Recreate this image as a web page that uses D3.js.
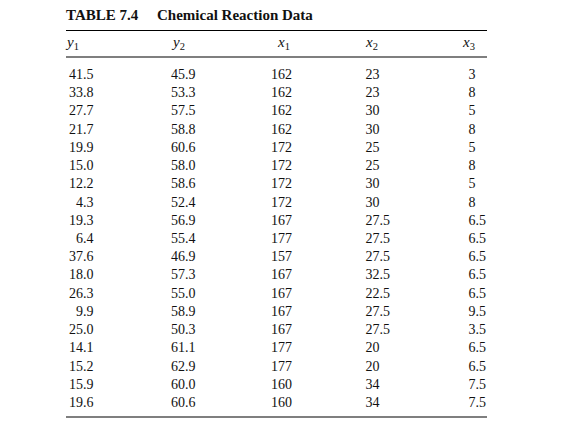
<!DOCTYPE html>
<html>
<head>
<meta charset="utf-8">
<script src="https://cdn.jsdelivr.net/npm/d3@7"></script>
<style>
  html, body { margin: 0; padding: 0; background: #fff; }
  svg { display: block; }
  text { font-family: "Liberation Serif", "DejaVu Serif", serif; fill: #111; }
</style>
</head>
<body>
<svg id="chart" width="582" height="442"></svg>
<script>
// ---- data ----
const tableNumber = "TABLE 7.4";
const tableTitle = "Chemical Reaction Data";
const headerLetters = ["y", "y", "x", "x", "x"];
const headerSubs = ["1", "2", "1", "2", "3"];
const y1 = [41.5, 33.8, 27.7, 21.7, 19.9, 15.0, 12.2, 4.3, 19.3, 6.4, 37.6, 18.0, 26.3, 9.9, 25.0, 14.1, 15.2, 15.9, 19.6];
const y2 = [45.9, 53.3, 57.5, 58.8, 60.6, 58.0, 58.6, 52.4, 56.9, 55.4, 46.9, 57.3, 55.0, 58.9, 50.3, 61.1, 62.9, 60.0, 60.6];
const x1 = [162, 162, 162, 162, 172, 172, 172, 172, 167, 177, 157, 167, 167, 167, 167, 177, 177, 160, 160];
const x2 = [23, 23, 30, 30, 25, 25, 30, 30, 27.5, 27.5, 27.5, 32.5, 22.5, 27.5, 27.5, 20, 20, 34, 34];
const x3 = [3, 8, 5, 8, 5, 8, 5, 8, 6.5, 6.5, 6.5, 6.5, 6.5, 9.5, 3.5, 6.5, 6.5, 7.5, 7.5];

// ---- layout ----
const svg = d3.select("#chart");
const left = 66, right = 487;
const columns = [
  { values: y1, fmt: d => d.toFixed(1), x: 93.5, anchor: "end", hx: 67 },
  { values: y2, fmt: d => d.toFixed(1), x: 171, anchor: "start", hx: 173 },
  { values: x1, fmt: d => String(d), x: 271, anchor: "start", hx: 278 },
  { values: x2, fmt: d => String(d), x: 365.5, anchor: "start", hx: 366 },
  { values: x3, fmt: d => String(d), x: 468.5, anchor: "start", hx: 463 }
];
const nRows = y1.length;
const rowY = d3.scaleLinear().domain([0, nRows - 1]).range([79, 407]);

// title
const title = svg.append("text")
  .attr("x", left).attr("y", 20)
  .style("font-size", "15px").style("font-weight", "bold");
title.append("tspan").text(tableNumber);
title.append("tspan").attr("x", 157).text(tableTitle);

// rules
const rules = [30.5, 57, 417];
svg.selectAll("line.rule").data(rules).join("line")
  .attr("class", "rule")
  .attr("x1", left).attr("x2", right)
  .attr("y1", d => d).attr("y2", d => d)
  .attr("stroke", "#000").attr("stroke-width", 1.2);

// header
const hdr = svg.selectAll("text.hdr").data(columns).join("text")
  .attr("class", "hdr")
  .attr("x", d => d.hx).attr("y", 47)
  .style("font-size", "15px");
hdr.append("tspan").style("font-style", "italic").text((d, i) => headerLetters[i]);
hdr.append("tspan").attr("dy", 3).style("font-size", "10.5px").text((d, i) => headerSubs[i]);

// body
columns.forEach((col, ci) => {
  svg.selectAll("text.c" + ci).data(col.values).join("text")
    .attr("class", "c" + ci)
    .attr("x", col.x)
    .attr("y", (d, i) => rowY(i))
    .attr("text-anchor", col.anchor)
    .style("font-size", "14px")
    .text(col.fmt);
});
</script>
</body>
</html>
